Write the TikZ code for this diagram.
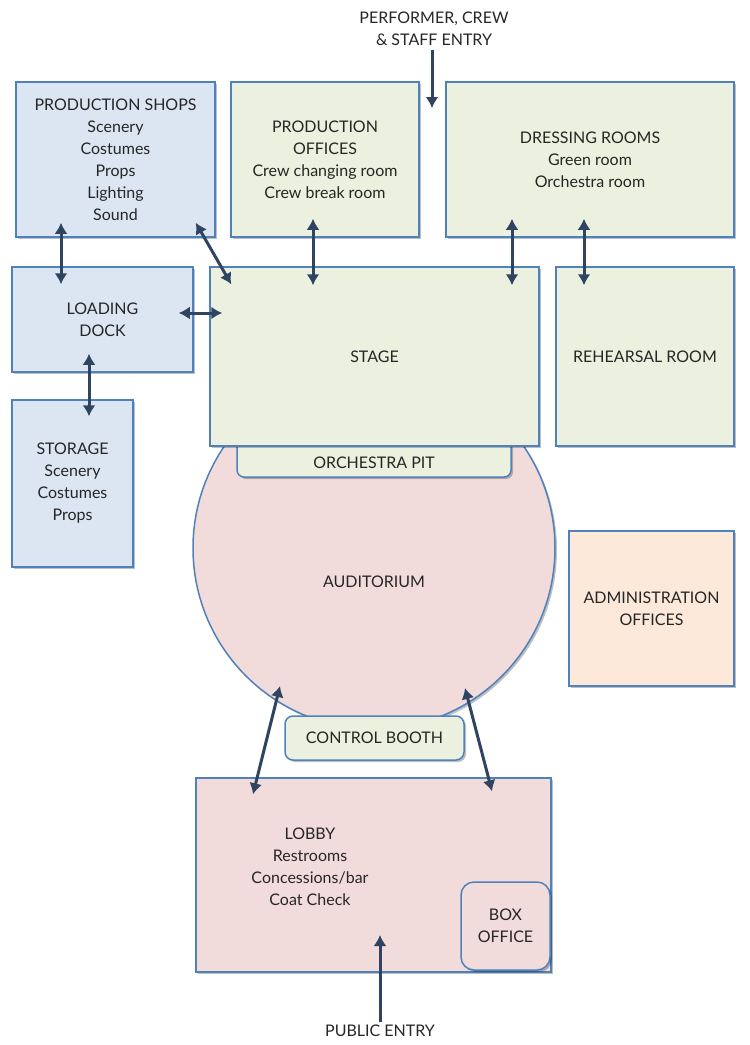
\documentclass[tikz,border=0pt]{standalone}
\usepackage{fontspec}
\setmainfont{Lato}
\usetikzlibrary{arrows.meta,shadows}
\definecolor{bordB}{HTML}{4F81BD}
\definecolor{fillB}{HTML}{DCE6F2}
\definecolor{fillG}{HTML}{EBF1DE}
\definecolor{fillP}{HTML}{F2DCDB}
\definecolor{fillO}{HTML}{FDE9D9}
\definecolor{arr}{HTML}{2F4461}
\definecolor{txt}{HTML}{262626}
\tikzset{
  room/.style={draw=bordB, line width=1.5pt, inner sep=0pt, align=center,
    text=txt, font=\fontsize{16}{22}\selectfont,
    drop shadow={shadow xshift=2pt, shadow yshift=-2pt, opacity=0.25, fill=black}},
  lbl/.style={inner sep=0pt, align=center, text=txt, font=\fontsize{16}{22}\selectfont},
  dbl/.style={draw=arr, line width=3pt, {Latex[length=11pt,width=13pt]}-{Latex[length=11pt,width=13pt]}},
  sgl/.style={draw=arr, line width=3pt, -{Latex[length=11pt,width=13pt]}},
}
\begin{document}
\begin{tikzpicture}[x=1pt,y=-1pt]
\useasboundingbox (0,0) rectangle (750,1045);
% auditorium and pit behind stage
\node[room, circle, fill=fillP, minimum size=362pt] (aud) at (374,548) {};
\node[room, fill=fillG, rounded corners=7pt, minimum width=274pt, minimum height=37pt] (pit) at (374,458.5) {};
\node[lbl] (pitlbl) at (374,463) {ORCHESTRA PIT};
\node[lbl] (audlbl) at (374,582) {AUDITORIUM};
% top row
\node[room, fill=fillB, minimum width=199pt, minimum height=155pt] (shops) at (115.5,159.5)
  {PRODUCTION SHOPS\\Scenery\\Costumes\\Props\\Lighting\\Sound};
\node[room, fill=fillG, minimum width=188pt, minimum height=155pt] (poff) at (325,159.5)
  {PRODUCTION\\OFFICES\\Crew changing room\\Crew break room};
\node[room, fill=fillG, minimum width=288pt, minimum height=155pt] (dress) at (590,159.5)
  {DRESSING ROOMS\\Green room\\Orchestra room};
% middle
\node[room, fill=fillB, minimum width=181pt, minimum height=105pt] (dock) at (102.5,319.5)
  {LOADING\\DOCK};
\node[room, fill=fillG, minimum width=329pt, minimum height=179pt] (stage) at (374.5,356.5)
  {STAGE};
\node[room, fill=fillG, minimum width=178pt, minimum height=179pt] (reh) at (645,356.5)
  {REHEARSAL ROOM};
\node[room, fill=fillB, minimum width=121pt, minimum height=167pt] (stor) at (72.5,483.5)
  {STORAGE\\Scenery\\Costumes\\Props};
\node[room, fill=fillO, minimum width=165pt, minimum height=155pt] (admin) at (651.5,608.5)
  {ADMINISTRATION\\OFFICES};
% bottom
\node[room, fill=fillG, rounded corners=8pt, minimum width=179pt, minimum height=44pt] (booth) at (374.5,738)
  {CONTROL BOOTH};
\node[room, fill=fillP, minimum width=355pt, minimum height=194pt] (lobby) at (373.5,875) {};
\node[lbl] (lobbylbl) at (310,867) {LOBBY\\Restrooms\\Concessions/bar\\Coat Check};
\node[room, fill=fillP, rounded corners=13pt, minimum width=89pt, minimum height=88pt] (boxoff) at (505.5,926)
  {BOX\\OFFICE};
% entries
\node[lbl] (perf) at (434,29) {PERFORMER, CREW\\\& STAFF ENTRY};
\coordinate (perfend) at (432,108);
\node[lbl] (pub) at (380,1031) {PUBLIC ENTRY};
\coordinate (pubend) at (380,935);
% connectors
\draw[dbl] ([xshift=-54.5pt,yshift=15pt]shops.south) -- ([xshift=-41.5pt,yshift=-18pt]dock.north);
\draw[dbl] ([xshift=-20pt,yshift=15pt]shops.south east) -- ([xshift=22pt,yshift=-18pt]stage.north west);
\draw[dbl] ([xshift=-15pt,yshift=6.5pt]dock.east) -- ([xshift=13pt,yshift=43.5pt]stage.west);
\draw[dbl] ([xshift=-12pt,yshift=19pt]poff.south) -- ([xshift=-61.5pt,yshift=-19pt]stage.north);
\draw[dbl] ([xshift=-78pt,yshift=19pt]dress.south) -- ([xshift=137.5pt,yshift=-19pt]stage.north);
\draw[dbl] ([xshift=-6pt,yshift=19pt]dress.south) -- ([xshift=-61pt,yshift=-19pt]reh.north);
\draw[dbl] ([xshift=-13.5pt,yshift=19pt]dock.south) -- ([xshift=16.5pt,yshift=-17pt]stor.north);
\draw[dbl] ([xshift=-94pt,yshift=-138pt]aud.center) -- ([xshift=-120.5pt,yshift=-17pt]lobby.north);
\draw[dbl] ([xshift=91pt,yshift=-140pt]aud.center) -- ([xshift=118.5pt,yshift=-14pt]lobby.north);
\draw[sgl] ([xshift=-2pt,yshift=-4pt]perf.south) -- (perfend);
\draw[sgl] ([yshift=3pt]pub.north) -- (pubend);
\end{tikzpicture}
\end{document}
